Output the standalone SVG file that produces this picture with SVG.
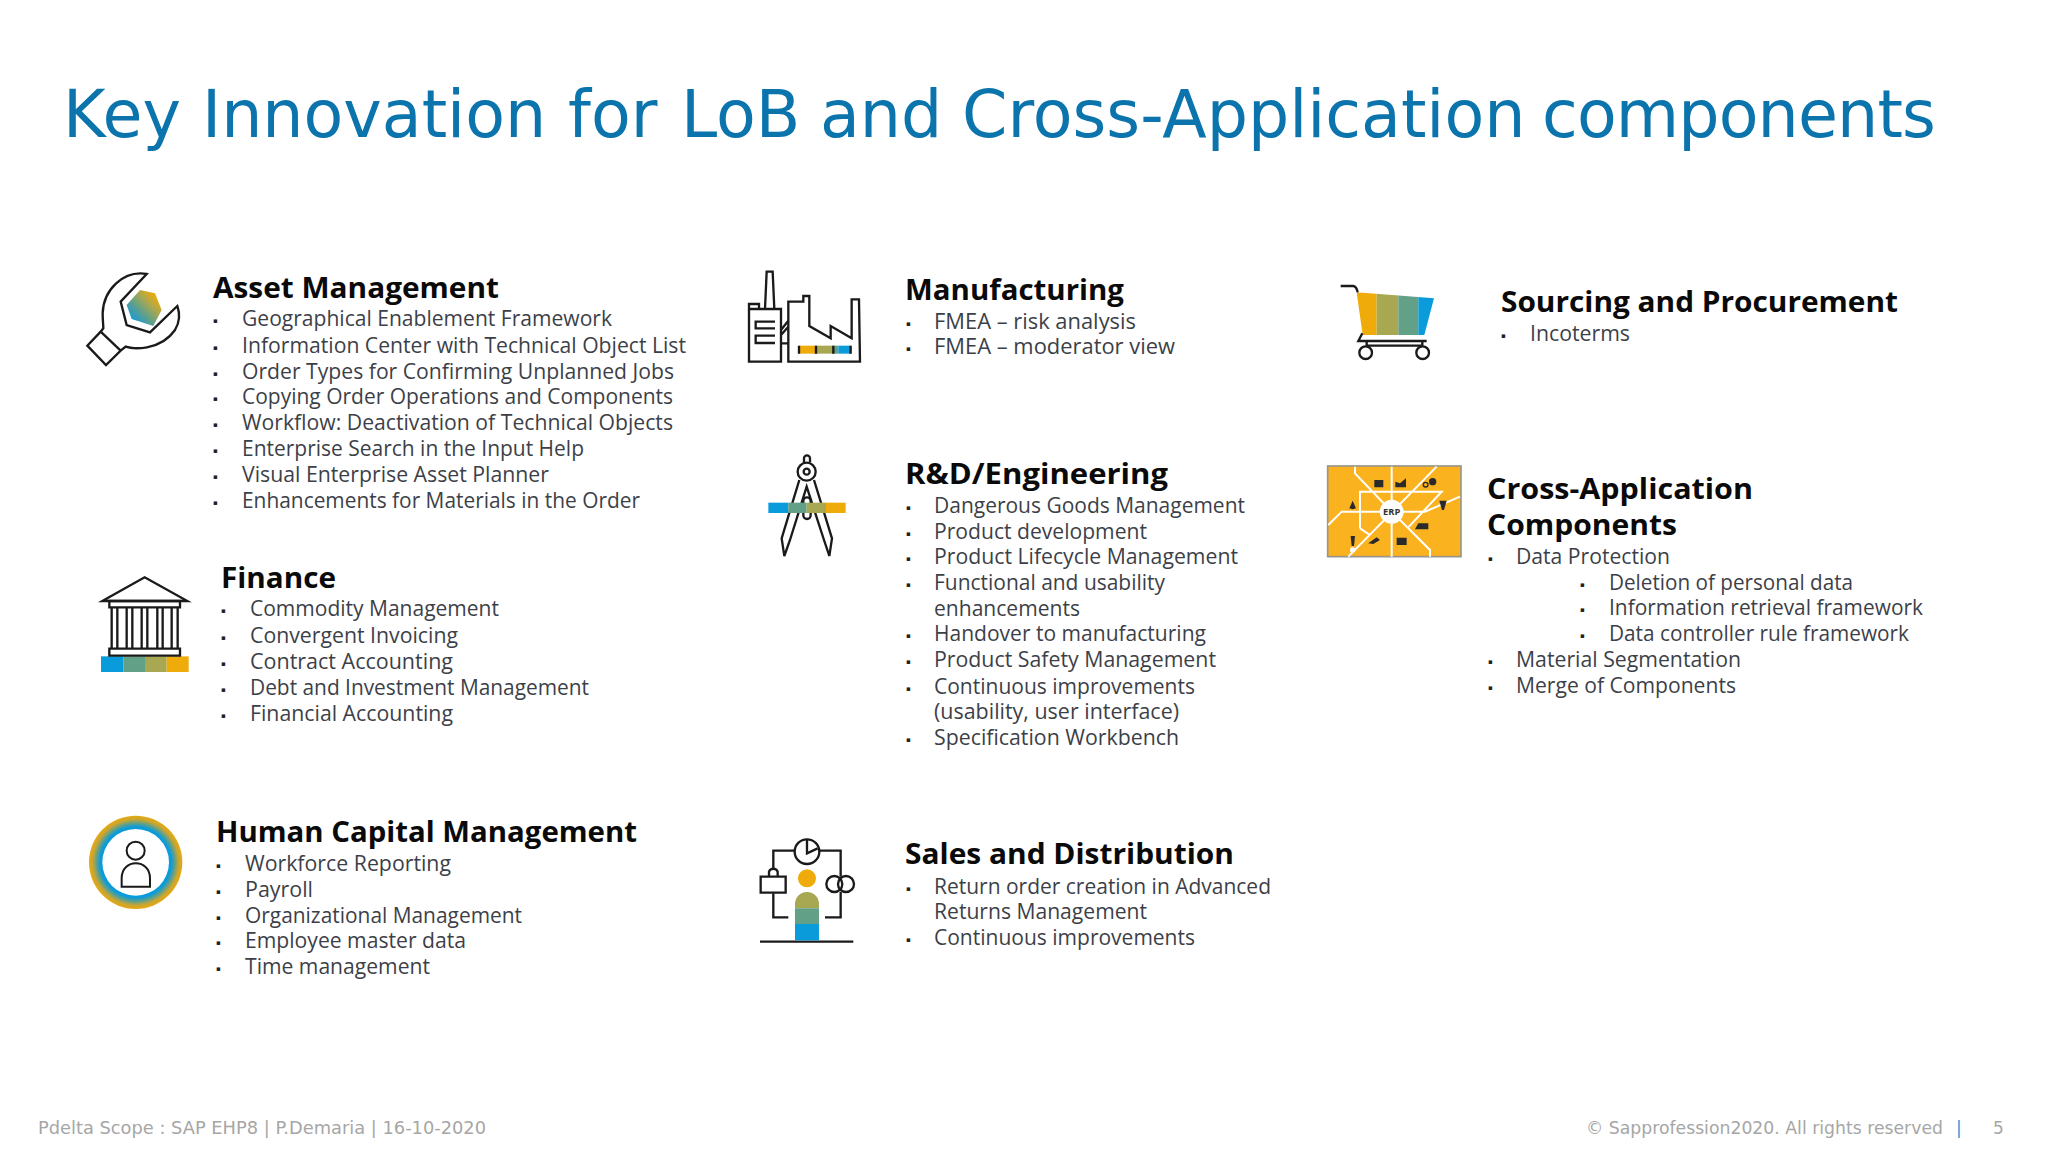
<svg xmlns="http://www.w3.org/2000/svg" width="2048" height="1152" viewBox="0 0 2048 1152">
<defs>
<linearGradient id="hex" x1="0" y1="1" x2="1" y2="0"><stop offset="0.12" stop-color="#0a9bdb"/><stop offset="0.3" stop-color="#3f9cb0"/><stop offset="0.42" stop-color="#62a088"/><stop offset="0.62" stop-color="#a8a852"/><stop offset="0.85" stop-color="#eeab0a"/></linearGradient>
<radialGradient id="ring"><stop offset="0.76" stop-color="#0a9bdb"/><stop offset="0.84" stop-color="#62a088"/><stop offset="0.92" stop-color="#c8a630"/><stop offset="1" stop-color="#e8a810"/></radialGradient>
<clipPath id="basket"><path d="M95 52L327 70L298 180L113 180Z"/></clipPath>
<clipPath id="torso"><path d="M150 332V222A36 36 0 0 1 222 222V332Z"/></clipPath>
</defs>
<style>
text{font-family:"Open Sans","Liberation Sans",sans-serif}
.t{font-family:"DejaVu Sans",sans-serif;font-size:65px;fill:#0b74ad}
.h{font-size:29px;font-weight:700;fill:#0a0a0a}
.i{font-size:21px;fill:#3d3f48}
.b{font-family:"DejaVu Sans",sans-serif;font-size:7px;fill:#222}
.f{font-family:"DejaVu Sans",sans-serif;font-size:17px;fill:#a6a6a6}
.l{fill:none;stroke:#1a1a1a;stroke-width:7;stroke-linejoin:miter}
.w{fill:none;stroke:#fff;stroke-width:6}
.k{fill:#2a2a2a}
</style>
<rect width="2048" height="1152" fill="#fff"/>
<text id="title" class="t" y="137"><tspan x="63">Key</tspan> <tspan x="202">Innovation</tspan> <tspan x="568">for</tspan> <tspan x="681">LoB</tspan> <tspan x="820">and</tspan> <tspan x="962">Cross-Application</tspan> <tspan x="1542" letter-spacing="-0.85">components</tspan></text>

<g id="asset-management">
<g transform="translate(60 250) scale(.3333)">
<path d="M240 120L285 130L305 180L280 228L215 207L200 165Z" fill="url(#hex)"/>
<path class="l" d="M260 72C190 60 130 120 128 190C128 210 130 225 130 235L122 245L82 287L138 345L182 302L197 290C215 297 300 305 345 240C360 215 360 190 352 168L270 247L200 225L182 155Z"/>
<path class="l" d="M122 245L182 302"/>
</g>
<text class="h" x="213" y="298" textLength="286" lengthAdjust="spacingAndGlyphs">Asset Management</text>
<text class="b" x="213" y="323">▪</text><text class="i" x="242" y="326" textLength="370" lengthAdjust="spacingAndGlyphs">Geographical Enablement Framework</text>
<text class="b" x="213" y="350">▪</text><text class="i" x="242" y="353" textLength="444" lengthAdjust="spacingAndGlyphs">Information Center with Technical Object List</text>
<text class="b" x="213" y="376">▪</text><text class="i" x="242" y="379" textLength="432" lengthAdjust="spacingAndGlyphs">Order Types for Confirming Unplanned Jobs</text>
<text class="b" x="213" y="401">▪</text><text class="i" x="242" y="404" textLength="431" lengthAdjust="spacingAndGlyphs">Copying Order Operations and Components</text>
<text class="b" x="213" y="427">▪</text><text class="i" x="242" y="430" textLength="431" lengthAdjust="spacingAndGlyphs">Workflow: Deactivation of Technical Objects</text>
<text class="b" x="213" y="453">▪</text><text class="i" x="242" y="456" textLength="342" lengthAdjust="spacingAndGlyphs">Enterprise Search in the Input Help</text>
<text class="b" x="213" y="479">▪</text><text class="i" x="242" y="482" textLength="307" lengthAdjust="spacingAndGlyphs">Visual Enterprise Asset Planner</text>
<text class="b" x="213" y="505">▪</text><text class="i" x="242" y="508" textLength="398" lengthAdjust="spacingAndGlyphs">Enhancements for Materials in the Order</text>
</g>

<g id="finance">
<g transform="translate(70 560) scale(.3333)">
<path d="M93 289H160V336H93Z" fill="#0a9bdb"/><path d="M160 289H225V336H160Z" fill="#62a088"/><path d="M225 289H290V336H225Z" fill="#a8a852"/><path d="M290 289H356V336H290Z" fill="#eeab0a"/>
<path class="l" d="M97 123L224 52L352 123Z"/>
<path class="l" d="M118 123H330V142H118Z"/>
<path class="l" d="M118 266H330V287H118Z"/>
<path class="l" d="M125 142V266M142 142V266M170 142V266M187 142V266M215 142V266M232 142V266M262 142V266M278 142V266M305 142V266M323 142V266"/>
</g>
<text class="h" x="221" y="588" textLength="115" lengthAdjust="spacingAndGlyphs">Finance</text>
<text class="b" x="221" y="613">▪</text><text class="i" x="250" y="616" textLength="249" lengthAdjust="spacingAndGlyphs">Commodity Management</text>
<text class="b" x="221" y="640">▪</text><text class="i" x="250" y="643" textLength="208" lengthAdjust="spacingAndGlyphs">Convergent Invoicing</text>
<text class="b" x="221" y="666">▪</text><text class="i" x="250" y="669" textLength="203" lengthAdjust="spacingAndGlyphs">Contract Accounting</text>
<text class="b" x="221" y="692">▪</text><text class="i" x="250" y="695" textLength="339" lengthAdjust="spacingAndGlyphs">Debt and Investment Management</text>
<text class="b" x="221" y="718">▪</text><text class="i" x="250" y="721" textLength="203" lengthAdjust="spacingAndGlyphs">Financial Accounting</text>
</g>

<g id="human-capital-management">
<g transform="translate(70 800) scale(.3333)">
<circle cx="197" cy="187" r="140" fill="url(#ring)"/>
<circle cx="197" cy="187" r="100" fill="#fff"/>
<circle cx="197" cy="152" r="27" fill="none" stroke="#1a1a1a" stroke-width="6"/>
<path d="M155 260V235C155 175 240 175 240 235V260Z" fill="none" stroke="#1a1a1a" stroke-width="6"/>
</g>
<text class="h" x="216" y="842" textLength="421" lengthAdjust="spacingAndGlyphs">Human Capital Management</text>
<text class="b" x="216" y="868">▪</text><text class="i" x="245" y="871" textLength="206" lengthAdjust="spacingAndGlyphs">Workforce Reporting</text>
<text class="b" x="216" y="894">▪</text><text class="i" x="245" y="897" textLength="68" lengthAdjust="spacingAndGlyphs">Payroll</text>
<text class="b" x="216" y="920">▪</text><text class="i" x="245" y="923" textLength="277" lengthAdjust="spacingAndGlyphs">Organizational Management</text>
<text class="b" x="216" y="945">▪</text><text class="i" x="245" y="948" textLength="221" lengthAdjust="spacingAndGlyphs">Employee master data</text>
<text class="b" x="216" y="971">▪</text><text class="i" x="245" y="974" textLength="185" lengthAdjust="spacingAndGlyphs">Time management</text>
</g>

<g id="manufacturing">
<g transform="translate(730 255) scale(.3333)">
<path d="M207 272H258V296H207Z" fill="#eeab0a"/><path d="M258 272H310V296H258Z" fill="#a8a852"/><path d="M310 272H325V296H310Z" fill="#62a088"/><path d="M325 272H362V296H325Z" fill="#0a9bdb"/>
<path class="l" d="M207 272V296M258 272V296M310 272V296M362 272V296"/>
<path class="l" d="M57 162H153V320H57ZM105 162L110 50H128L133 162M57 162V147H87V162M135 200H77V220H135M135 242H77V264H135M153 225L175 197M153 240L175 215M153 265H175"/>
<path class="l" d="M175 320V140H220V123H238V213L302 250V213L365 250V133H387L390 320Z"/>
</g>
<text class="h" x="905" y="300" textLength="219" lengthAdjust="spacingAndGlyphs">Manufacturing</text>
<text class="b" x="906" y="326">▪</text><text class="i" x="934" y="329" textLength="202" lengthAdjust="spacingAndGlyphs">FMEA – risk analysis</text>
<text class="b" x="906" y="351">▪</text><text class="i" x="934" y="354" textLength="241" lengthAdjust="spacingAndGlyphs">FMEA  – moderator view</text>
</g>

<g id="rd-engineering">
<g transform="translate(750 445) scale(.3333)">
<path class="l" d="M162 52V40A9 9 0 0 1 180 40V52"/>
<circle class="l" cx="170" cy="80" r="27"/><circle class="l" cx="170" cy="80" r="9"/>
<path class="l" d="M148 105L95 280L103 333L120 285L170 125L222 285L238 333L246 280L192 105"/>
<rect class="l" x="160" y="157" width="22" height="65" rx="11"/>
<path d="M55 173H115V204H55Z" fill="#0a9bdb"/><path d="M115 173H170V204H115Z" fill="#62a088"/><path d="M170 173H228V204H170Z" fill="#a8a852"/><path d="M228 173H287V204H228Z" fill="#eeab0a"/>
</g>
<text class="h" x="905" y="484" textLength="263" lengthAdjust="spacingAndGlyphs">R&amp;D/Engineering</text>
<text class="b" x="906" y="510">▪</text><text class="i" x="934" y="513" textLength="311" lengthAdjust="spacingAndGlyphs">Dangerous Goods Management</text>
<text class="b" x="906" y="536">▪</text><text class="i" x="934" y="539" textLength="213" lengthAdjust="spacingAndGlyphs">Product development</text>
<text class="b" x="906" y="561">▪</text><text class="i" x="934" y="564" textLength="304" lengthAdjust="spacingAndGlyphs">Product Lifecycle Management</text>
<text class="b" x="906" y="587">▪</text><text class="i" x="934" y="590" textLength="231" lengthAdjust="spacingAndGlyphs">Functional and usability</text>
<text class="i" x="934" y="616" textLength="146" lengthAdjust="spacingAndGlyphs">enhancements</text>
<text class="b" x="906" y="638">▪</text><text class="i" x="934" y="641" textLength="272" lengthAdjust="spacingAndGlyphs">Handover to manufacturing</text>
<text class="b" x="906" y="664">▪</text><text class="i" x="934" y="667" textLength="282" lengthAdjust="spacingAndGlyphs">Product Safety Management</text>
<text class="b" x="906" y="691">▪</text><text class="i" x="934" y="694" textLength="261" lengthAdjust="spacingAndGlyphs">Continuous improvements</text>
<text class="i" x="934" y="719" textLength="245" lengthAdjust="spacingAndGlyphs">(usability, user interface)</text>
<text class="b" x="906" y="742">▪</text><text class="i" x="934" y="745" textLength="245" lengthAdjust="spacingAndGlyphs">Specification Workbench</text>
</g>

<g id="sales-and-distribution">
<g transform="translate(745 830) scale(.3333)">
<path d="M45 335H325" class="l"/>
<circle cx="186" cy="145" r="27" fill="#eeab0a"/>
<g clip-path="url(#torso)"><path d="M150 185H222V235H150Z" fill="#a8a852"/><path d="M150 235H222V282H150Z" fill="#62a088"/><path d="M150 282H222V332H150Z" fill="#0a9bdb"/></g>
<circle class="l" cx="186" cy="65" r="37"/>
<path class="l" d="M186 30V70L218 55M150 62H85V115M222 62H287V140M287 185V262H240M85 190V262H130"/>
<path class="l" d="M47 140H122V188H47ZM72 140V125A14 14 0 0 1 98 125V140"/>
<circle class="l" cx="268" cy="162" r="24"/><circle class="l" cx="303" cy="162" r="24"/>
</g>
<text class="h" x="905" y="864" textLength="329" lengthAdjust="spacingAndGlyphs">Sales and Distribution</text>
<text class="b" x="906" y="891">▪</text><text class="i" x="934" y="894" textLength="337" lengthAdjust="spacingAndGlyphs">Return order creation in Advanced</text>
<text class="i" x="934" y="919" textLength="213" lengthAdjust="spacingAndGlyphs">Returns Management</text>
<text class="b" x="906" y="942">▪</text><text class="i" x="934" y="945" textLength="261" lengthAdjust="spacingAndGlyphs">Continuous improvements</text>
</g>

<g id="sourcing-and-procurement">
<g transform="translate(1325 275) scale(.3333)">
<g clip-path="url(#basket)"><path d="M90 50H155V185H90Z" fill="#eeab0a"/><path d="M155 50H220V185H155Z" fill="#a8a852"/><path d="M220 50H280V185H220Z" fill="#62a088"/><path d="M280 50H330V185H280Z" fill="#0a9bdb"/></g>
<path class="l" d="M47 33H85Q95 35 98 52M112 175L100 198H305M125 198V212M292 198V212M125 212H292"/>
<circle class="l" cx="122" cy="233" r="19"/><circle class="l" cx="293" cy="233" r="19"/>
</g>
<text class="h" x="1501" y="312" textLength="397" lengthAdjust="spacingAndGlyphs">Sourcing and Procurement</text>
<text class="b" x="1501" y="338">▪</text><text class="i" x="1530" y="341" textLength="100" lengthAdjust="spacingAndGlyphs">Incoterms</text>
</g>

<g id="cross-application-components">
<g transform="translate(1320 460) scale(.3333)">
<rect x="23" y="18" width="400" height="272" fill="#fbb21f" stroke="#98968a" stroke-width="5"/>
<path class="w" d="M105 20V40L215 155L330 270V290M215 20V290M350 20L85 290M120 205V95H365L262 205M120 205L150 225M25 195L65 155H315L420 110"/>
<circle cx="215" cy="155" r="36" fill="#fff"/>
<circle cx="98" cy="270" r="8" fill="#fff"/>
<text x="215" y="165" text-anchor="middle" font-size="28" font-weight="700" fill="#333">ERP</text>
<path class="k" d="M163 82V60H190V82ZM226 82V65L240 70L258 55V82ZM88 145L98 122L108 145L98 148ZM358 122H380L372 150H366ZM285 208L295 190H325V208ZM230 233H260V255H230ZM92 228H105L102 258H95ZM145 250L170 232L180 240L160 252Z"/>
<circle class="k" cx="338" cy="65" r="11"/><circle cx="317" cy="74" r="7" fill="none" stroke="#2a2a2a" stroke-width="4"/>
</g>
<text class="h" x="1487" y="499" textLength="266" lengthAdjust="spacingAndGlyphs">Cross-Application</text>
<text class="h" x="1487" y="535" textLength="190" lengthAdjust="spacingAndGlyphs">Components</text>
<text class="b" x="1488" y="561">▪</text><text class="i" x="1516" y="564" textLength="154" lengthAdjust="spacingAndGlyphs">Data Protection</text>
<text class="b" x="1580" y="587">▪</text><text class="i" x="1609" y="590" textLength="244" lengthAdjust="spacingAndGlyphs">Deletion of personal data</text>
<text class="b" x="1580" y="612">▪</text><text class="i" x="1609" y="615" textLength="314" lengthAdjust="spacingAndGlyphs">Information retrieval framework</text>
<text class="b" x="1580" y="638">▪</text><text class="i" x="1609" y="641" textLength="300" lengthAdjust="spacingAndGlyphs">Data controller rule framework</text>
<text class="b" x="1488" y="664">▪</text><text class="i" x="1516" y="667" textLength="225" lengthAdjust="spacingAndGlyphs">Material Segmentation</text>
<text class="b" x="1488" y="690">▪</text><text class="i" x="1516" y="693" textLength="220" lengthAdjust="spacingAndGlyphs">Merge of Components</text>
</g>

<g id="footer">
<text class="f" x="38" y="1134" textLength="448" lengthAdjust="spacingAndGlyphs">Pdelta Scope : SAP EHP8 | P.Demaria | 16-10-2020</text>
<text class="f" x="1586" y="1134" textLength="357" lengthAdjust="spacingAndGlyphs">© Sapprofession2020. All rights reserved</text>
<text class="f" x="1956" y="1134" style="fill:#1c9ad0">|</text>
<text class="f" x="1993" y="1134">5</text>
</g>
</svg>
